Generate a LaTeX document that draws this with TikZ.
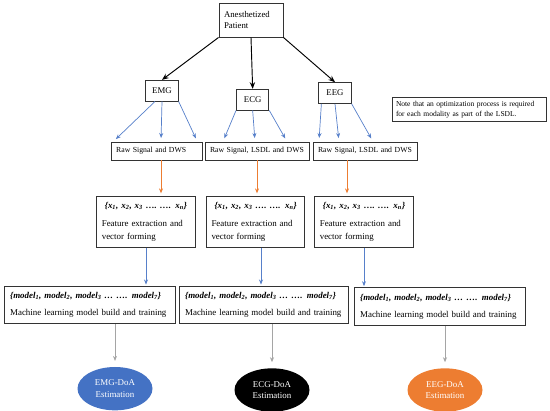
\documentclass[tikz,border=0pt]{standalone}
\usepackage{amsmath,amssymb,amsfonts}
\usepackage{fontspec}
\setmainfont{Liberation Serif}
\usepackage{xcolor}
\usepackage{tikz}
\usetikzlibrary{shapes.geometric, arrows.meta, positioning, calc}

\definecolor{doablue}{HTML}{4472C4}
\definecolor{doaorange}{HTML}{ED7D31}
\definecolor{doagray}{HTML}{A5A5A5}

\newcommand{\bfit}[1]{\textbf{\textit{#1}}}

\begin{document}
\begin{tikzpicture}[
    % Node styles
    patientbox/.style={rectangle, draw=black!80, thick, minimum width=1.92cm, minimum height=1.02cm, text width=1.62cm, align=left, font=\fontsize{7.5}{9.5}\selectfont},
    sigbox/.style={rectangle, draw=black!80, thick, minimum width=0.97cm, minimum height=0.62cm, font=\fontsize{7.5}{8}\selectfont},
    rawbox/.style={rectangle, draw=black!80, thick, minimum height=0.54cm, inner xsep=0.15cm, align=left, font=\fontsize{6.6}{8}\selectfont},
    featbox/.style={rectangle, draw=black!80, thick, minimum height=1.53cm, inner xsep=0.15cm, text width=2.65cm, align=left, font=\fontsize{7.6}{11}\selectfont},
    mlbox/.style={rectangle, draw=black!80, thick, minimum height=1.13cm, inner xsep=0.18cm, align=left, font=\fontsize{7.6}{11}\selectfont},
    notebox/.style={rectangle, draw=black!80, thick, minimum height=0.69cm, inner xsep=0.12cm, text width=4.38cm, align=left, font=\fontsize{6.4}{8}\selectfont},
    doa/.style={ellipse, minimum width=2.25cm, minimum height=1.3cm, inner sep=0pt, text=white, align=center, font=\fontsize{7.6}{10}\selectfont},
    mainarrow/.style={-{Stealth[length=2mm, width=1.6mm]}, thick},
    bluearrow/.style={-{Stealth[length=1.5mm, width=1.2mm]}, draw=doablue!90, semithick, shorten >=3pt},
    orangearrow/.style={-{Stealth[length=1.5mm, width=1.2mm]}, draw=doaorange, semithick, shorten >=2pt},
    grayarrow/.style={-{Stealth[length=1.5mm, width=1.2mm]}, draw=doagray, semithick, shorten >=5pt}
]

\useasboundingbox (0,0) rectangle (16.5,-12.33);

% Patient and modalities
\node[patientbox] (patient) at (7.53, -0.60) {Anesthetized\\Patient};
\node[sigbox] (emg) at (4.86, -2.72) {EMG};
\node[sigbox] (ecg) at (7.58, -2.99) {ECG};
\node[sigbox] (eeg) at (10.05, -2.79) {EEG};

% Note
\node[notebox] (note) at (14.07, -3.29) {Note that an optimization process is required for each modality as part of the LSDL.};

\draw[mainarrow] (patient.south west) -- (emg.north);
\draw[mainarrow] (patient.south) -- (ecg.north);
\draw[mainarrow] (patient.south east) -- (eeg.north);

% Signal processing
\node[rawbox, text width=2.43cm] (raw1) at (4.70, -4.53) {Raw Signal and DWS};
\node[rawbox, text width=2.82cm] (raw2) at (7.71, -4.53) {Raw Signal, LSDL and DWS};
\node[rawbox, text width=2.82cm] (raw3) at (10.95, -4.53) {Raw Signal, LSDL and DWS};

\draw[bluearrow] ($(emg.south)+(-0.21,0)$) -- ($(raw1.north)+(-1.3,0)$);
\draw[bluearrow] (emg.south) -- ($(raw1.north)+(0.13,0)$);
\draw[bluearrow] (emg.south east) -- ($(raw1.north)+(1.22,0)$);
\draw[bluearrow] (ecg.south west) -- ($(raw2.north)+(-1.02,0)$);
\draw[bluearrow] (ecg.south) -- ($(raw2.north)+(-0.06,0)$);
\draw[bluearrow] (ecg.south east) -- ($(raw2.north)+(0.9,0)$);
\draw[bluearrow] ($(eeg.south west)+(0.09,0)$) -- ($(raw3.north)+(-1.38,0)$);
\draw[bluearrow] (eeg.south) -- ($(raw3.north)+(-0.78,0)$);
\draw[bluearrow] (eeg.south east) -- ($(raw3.north)+(0.24,0)$);

% Feature extraction
\node[featbox] (feat1) at (4.38, -6.65) {\makebox[\linewidth]{\bfit{\{x\textsubscript{1}, x\textsubscript{2}, x\textsubscript{3} \ldots.\ \ldots. x\textsubscript{n}\}}}\\[4pt]Feature extraction and\\vector forming};
\node[featbox] (feat2) at (7.67, -6.65) {\makebox[\linewidth]{\bfit{\{x\textsubscript{1}, x\textsubscript{2}, x\textsubscript{3} \ldots.\ \ldots. x\textsubscript{n}\}}}\\[4pt]Feature extraction and\\vector forming};
\node[featbox] (feat3) at (10.92, -6.65) {\makebox[\linewidth]{\bfit{\{x\textsubscript{1}, x\textsubscript{2}, x\textsubscript{3} \ldots.\ \ldots. x\textsubscript{n}\}}}\\[4pt]Feature extraction and\\vector forming};

\draw[orangearrow] ($(raw1.south)+(0.13,0)$) coordinate (o1) -- (o1 |- feat1.north);
\draw[orangearrow] (raw2.south) -- (raw2.south |- feat2.north);
\draw[orangearrow] ($(raw3.south)+(-0.54,0)$) coordinate (o3) -- (o3 |- feat3.north);

% Model building
\node[mlbox, text width=4.77cm] (ml1) at (2.69, -9.15) {\bfit{\{model\textsubscript{1}, model\textsubscript{2}, model\textsubscript{3} \ldots\ \ldots. model\textsubscript{7}\}}\\[4pt]Machine learning model build and training};
\node[mlbox, text width=4.71cm] (ml2) at (7.91, -9.15) {\bfit{\{model\textsubscript{1}, model\textsubscript{2}, model\textsubscript{3} \ldots\ \ldots. model\textsubscript{7}\}}\\[4pt]Machine learning model build and training};
\node[mlbox, text width=4.77cm] (ml3) at (13.19, -9.20) {\bfit{\{model\textsubscript{1}, model\textsubscript{2}, model\textsubscript{3} \ldots\ \ldots. model\textsubscript{7}\}}\\[4pt]Machine learning model build and training};

\draw[bluearrow, shorten >=1pt] (feat1.south) -- (feat1.south |- ml1.north);
\draw[bluearrow, shorten >=1pt] ($(feat2.south)+(0.16,0)$) coordinate (f2) -- (f2 |- ml2.north);
\draw[bluearrow, shorten >=1pt] (feat3.south) -- (feat3.south |- ml3.north);

% DoA estimation
\node[doa, fill=doablue] (emgdoa) at (3.45, -11.66) {EMG-DoA\\Estimation};
\node[doa, fill=black] (ecgdoa) at (8.16, -11.70) {ECG-DoA\\Estimation};
\node[doa, fill=doaorange] (eegdoa) at (13.35, -11.70) {EEG-DoA\\Estimation};

\draw[grayarrow] (emgdoa.north |- ml1.south) -- (emgdoa.north);
\draw[grayarrow] (ecgdoa.north |- ml2.south) -- (ecgdoa.north);
\draw[grayarrow] (eegdoa.north |- ml3.south) -- (eegdoa.north);

\end{tikzpicture}
\end{document}
